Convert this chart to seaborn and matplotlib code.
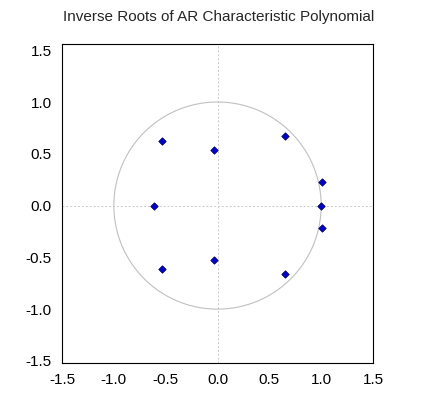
import numpy as np
import pandas as pd
import matplotlib
matplotlib.use("Agg")
import matplotlib.pyplot as plt
import seaborn as sns

real = [-0.535, -0.03, 0.65, 1.01, 1.00, 1.01, -0.61, -0.535, -0.03, 0.65]
imag = [0.62, 0.535, 0.67, 0.23, 0.0, -0.22, 0.0, -0.61, -0.525, -0.66]
ticks = [-1.5, -1.0, -0.5, 0.0, 0.5, 1.0, 1.5]
df = pd.DataFrame({"re": real, "im": imag})

sns.set_style("white")
plt.rcParams['font.family'] = ['Liberation Sans', 'DejaVu Sans']
fig = plt.figure(figsize=(4.37, 4.0), dpi=100)
ax = fig.add_axes([62/437, 37/400, 311/437, 319/400])
t = np.linspace(0, 2*np.pi, 400)
ax.plot(np.cos(t), np.sin(t), color="#c0c0c0", lw=0.8)
ax.axhline(0, color="#c8c8c8", lw=0.7, ls=(0, (2, 2)))
ax.axvline(0, color="#c8c8c8", lw=0.7, ls=(0, (2, 2)))
sns.scatterplot(data=df, x="re", y="im", marker="D", s=14, color="#0000cc",
                edgecolor="#000066", linewidth=0.6, ax=ax, zorder=3)
ax.set_xlim(-1.5, 1.5)
ax.set_ylim(-1.52, 1.56)
ax.set_xticks(ticks)
ax.set_yticks(ticks)
ax.set_xticklabels([f"{v:.1f}" for v in ticks], fontsize=11)
ax.set_yticklabels([f"{v:.1f}" for v in ticks], fontsize=11)
ax.tick_params(direction="out", length=4, width=0.8, colors="black")
ax.set_xlabel("")
ax.set_ylabel("")
for s in ax.spines.values():
    s.set_color("black"); s.set_linewidth(0.8)
fig.suptitle("Inverse Roots of AR Characteristic Polynomial", fontsize=11, y=0.975)
fig.savefig("out.png", dpi=100)
